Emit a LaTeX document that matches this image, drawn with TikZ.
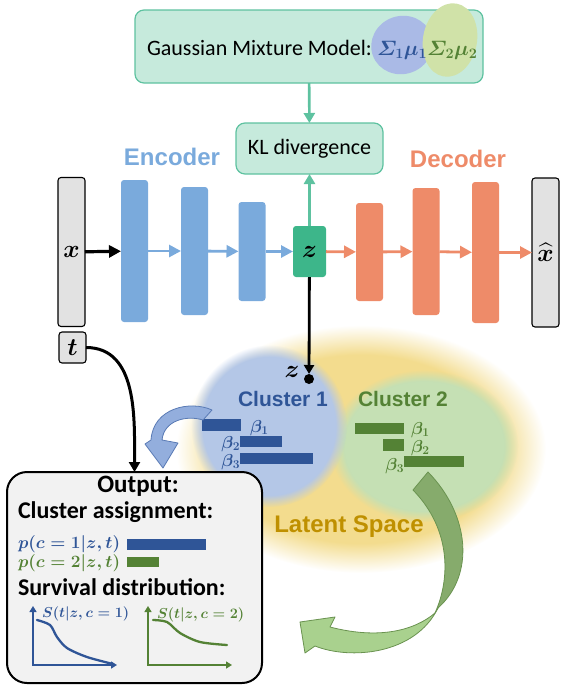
\documentclass[tikz,border=0pt]{standalone}
\usepackage{amsmath}
\usepackage{amsfonts}
\usepackage{fontspec}
\setmainfont{Carlito}
\setsansfont{Liberation Sans}
\usetikzlibrary{arrows.meta, fadings}

\definecolor{encblue}{HTML}{7AAADC}
\definecolor{decorange}{HTML}{EE8B69}
\definecolor{iogray}{HTML}{E2E2E2}
\definecolor{tealfill}{HTML}{C6EADC}
\definecolor{tealline}{HTML}{5EC2A0}
\definecolor{zteal}{HTML}{3DB68A}
\definecolor{clublue}{HTML}{2F5597}
\definecolor{clugreen}{HTML}{548235}
\definecolor{cluonefill}{HTML}{B4C7E7}
\definecolor{clutwofill}{HTML}{C5E0B4}
\definecolor{latentbg}{HTML}{F3DC8E}
\definecolor{latentgold}{HTML}{BF9000}
\definecolor{outgray}{HTML}{F2F2F2}
\definecolor{gmmblue}{HTML}{AABAE6}
\definecolor{gmmgreen}{HTML}{D0E2A8}
\definecolor{bluearrow}{HTML}{93AEDD}
\definecolor{bluearrowline}{HTML}{5A7BB5}
\definecolor{greendark}{HTML}{86AB6C}
\definecolor{greenlight}{HTML}{A9D18E}
\definecolor{greenline}{HTML}{6A9350}

% soft edged glow for the latent space
\pgfdeclareradialshading{latentglow}{\pgfpoint{0bp}{0bp}}{color(0bp)=(latentbg); color(19bp)=(latentbg); color(25bp)=(white); color(50bp)=(white)}

\newcommand{\pxfont}[1]{\fontsize{#1}{#1}\selectfont}

\begin{document}
\begin{tikzpicture}[x=1pt, y=-1pt,
	every node/.style={inner sep=0pt, outer sep=0pt},
	layer/.style={shape=rectangle, rounded corners=3pt, minimum width=27pt},
	encbar/.style={layer, fill=encblue},
	decbar/.style={layer, fill=decorange},
	iobox/.style={layer, fill=iogray, draw=black, line width=1.1pt, font=\pxfont{24}},
	tealbox/.style={shape=rectangle, rounded corners=9pt, fill=tealfill, draw=tealline, line width=1.2pt},
	title/.style={font=\sffamily\bfseries\pxfont{24}},
	flow/.style={-{Triangle[length=12pt,width=12pt]}, line width=2.8pt},
	kl/.style={-{Triangle[length=10pt,width=11pt]}, line width=2.6pt, tealline},
	bar/.style={shape=rectangle, anchor=north west},
	heading/.style={anchor=base west, font=\bfseries\pxfont{24}},
	blob/.style={path fading=circle with fuzzy edge 15 percent},
	axis/.style={{Triangle[length=6pt,width=7pt]}-{Triangle[length=6pt,width=7pt]}, line width=2.3pt},
	curve/.style={line width=2.3pt, line cap=round}]
	
	\useasboundingbox (0,0) rectangle (567,689);
	
	% latent space
	\shade[shading=latentglow] (361,449) ellipse (185pt and 124pt);
	\fill[clutwofill, blob] (424,446) ellipse (94pt and 76pt);
	\fill[cluonefill, blob] (269,426) ellipse (78pt and 81pt);
	
	% gaussian mixture model and kl term
	\node[tealbox, minimum width=348pt, minimum height=73pt] (gmm) at (309,46.5) {};
	\fill[gmmblue, rotate around={20:(402,45)}] (402,45) ellipse (31pt and 29pt);
	\fill[gmmgreen, rotate around={-10:(450,40)}] (450,40) ellipse (27pt and 37pt);
	\node[anchor=base west, font=\pxfont{22}] (gmmtext) at (147,55) {Gaussian Mixture Model:};
	\node[anchor=base west, font=\pxfont{22}] (gmmparams) at (377,55) {\color{clublue}$\boldsymbol{\varSigma_1\mu_1}$\color{clugreen}$\boldsymbol{\varSigma_2\mu_2}$};
	\node[tealbox, minimum width=147pt, minimum height=51pt, font=\pxfont{22}] (kl) at (309.5,148.5) {KL divergence};
	
	% autoencoder
	\node[title, text=encblue, anchor=base] (enc) at (172,165) {Encoder};
	\node[title, text=decorange, anchor=base] (dec) at (458,167) {Decoder};
	
	\node[iobox, minimum height=149pt] (x) at (71.5,252) {$\boldsymbol{x}$};
	\node[encbar, minimum height=142pt] (e1) at (134.5,251) {};
	\node[encbar, minimum height=128pt] (e2) at (194.5,251) {};
	\node[encbar, minimum height=99pt] (e3) at (252,251.5) {};
	\node[layer, minimum width=33pt, minimum height=51pt, fill=zteal, font=\pxfont{24}] (z) at (309.5,251.5) {$\boldsymbol{z}$};
	\node[decbar, minimum height=98pt] (d1) at (369.5,252) {};
	\node[decbar, minimum height=127pt] (d2) at (426,251.5) {};
	\node[decbar, minimum height=141pt] (d3) at (485.5,252.5) {};
	\node[iobox, minimum height=149pt] (xhat) at (545.5,252.5) {$\boldsymbol{\widehat{x}}$};
	
	\path[flow, black, line width=3.2pt] (x) edge (e1);
	\path[flow, encblue] (e1) edge (e2);
	\path[flow, encblue] (e2) edge (e3);
	\path[flow, encblue] (e3) edge (z);
	\path[flow, decorange] (z) edge (d1);
	\path[flow, decorange] (d1) edge (d2);
	\path[flow, decorange] (d2) edge (d3);
	\path[flow, decorange] (d3) edge (xhat);
	\path[kl] (gmm) edge (kl);
	\path[kl] (z) edge (kl);
	
	% clusters
	\node[circle, fill=black, minimum size=10pt] (zdot) at (309,379) {};
	\node[anchor=base, font=\pxfont{24}] (zlabel) at (292,377) {$\boldsymbol{z}$};
	\path[flow, black, -{Triangle[length=9pt,width=10pt]}] (z) edge (zdot);
	
	\node[anchor=base, font=\sffamily\bfseries\pxfont{21}, text=clublue] (cone) at (283,406) {Cluster 1};
	\node[anchor=base, font=\sffamily\bfseries\pxfont{21}, text=clugreen] (ctwo) at (403,406) {Cluster 2};
	
	\node[bar, fill=clublue, minimum width=39pt, minimum height=12pt] (bone1) at (202,419) {};
	\node[bar, fill=clublue, minimum width=42pt, minimum height=11pt] (bone2) at (240,436) {};
	\node[bar, fill=clublue, minimum width=73pt, minimum height=11pt] (bone3) at (240,453) {};
	\node[anchor=base west, font=\pxfont{18}, text=clublue] (lone1) at (250,432) {$\boldsymbol{\beta_1}$};
	\node[anchor=base east, font=\pxfont{18}, text=clublue] (lone2) at (240,448) {$\boldsymbol{\beta_2}$};
	\node[anchor=base east, font=\pxfont{18}, text=clublue] (lone3) at (240,466) {$\boldsymbol{\beta_3}$};
	
	\node[bar, fill=clugreen, minimum width=49pt, minimum height=11pt] (btwo1) at (355,423) {};
	\node[bar, fill=clugreen, minimum width=21pt, minimum height=12pt] (btwo2) at (383,439) {};
	\node[bar, fill=clugreen, minimum width=60pt, minimum height=11pt] (btwo3) at (404,456) {};
	\node[anchor=base west, font=\pxfont{18}, text=clugreen] (ltwo1) at (411,434) {$\boldsymbol{\beta_1}$};
	\node[anchor=base west, font=\pxfont{18}, text=clugreen] (ltwo2) at (411,452) {$\boldsymbol{\beta_2}$};
	\node[anchor=base east, font=\pxfont{18}, text=clugreen] (ltwo3) at (404,470) {$\boldsymbol{\beta_3}$};
	
	\node[anchor=base, font=\sffamily\bfseries\pxfont{24}, text=latentgold] (latent) at (349,532) {Latent Space};
	
	% output
	\node[iobox, minimum height=31pt] (t) at (72.5,347.5) {$\boldsymbol{t}$};
	\node[shape=rectangle, rounded corners=20pt, draw=black, line width=2pt, fill=outgray, minimum width=255pt, minimum height=211pt] (out) at (134.5,577.5) {};
	\path[flow, black, line width=3pt, -{Triangle[length=10pt,width=11pt]}] (t) edge[out=0, in=90] (out);
	
	\node[anchor=base, font=\bfseries\pxfont{25}] (outtitle) at (138,492) {Output:};
	\node[heading] (assign) at (18,518) {Cluster assignment:};
	\node[anchor=base west, font=\pxfont{18}, text=clublue] (pone) at (18,548) {$\boldsymbol{p(c=1|z,t)}$};
	\node[anchor=base west, font=\pxfont{18}, text=clugreen] (ptwo) at (18,567) {$\boldsymbol{p(c=2|z,t)}$};
	\node[bar, fill=clublue, minimum width=79pt, minimum height=11pt] (pbone) at (127,539) {};
	\node[bar, fill=clugreen, minimum width=32pt, minimum height=10pt] (pbtwo) at (127,557) {};
	\node[heading] (surv) at (18,595) {Survival distribution:};
	
	\coordinate (yone) at (33,606);
	\coordinate (xone) at (117,665);
	\coordinate (ytwo) at (148,606);
	\coordinate (xtwo) at (232,665);
	\draw[axis, clublue] (yone) |- (xone);
	\draw[axis, clugreen] (ytwo) |- (xtwo);
	\draw[curve, clublue] plot[smooth] coordinates {(37,620) (50,625) (57,637) (67,648) (87,657) (113,664)};
	\draw[curve, clugreen] plot[smooth] coordinates {(153,620) (167,622) (180,633) (200,642) (227,645)};
	\node[anchor=base west, font=\pxfont{15}, text=clublue] (sone) at (42,617) {$\boldsymbol{S(t|z,c=1)}$};
	\node[anchor=base west, font=\pxfont{15}, text=clugreen] (stwo) at (157,618) {$\boldsymbol{S(t|z,c=2)}$};
	
	% curved block arrows
	\draw[fill=bluearrow, draw=bluearrowline, line width=0.8pt, line join=round] (212,410) .. controls (190,400) and (153,408) .. (151,440) -- (145,444) -- (163,468) -- (178,443) -- (162,440) .. controls (164,420) and (187,415) .. (203,420) -- cycle;
	\draw[fill=greendark, draw=greenline, line width=0.8pt, line join=round] (428,472) .. controls (470,515) and (475,575) .. (438,608) -- (435,613) .. controls (450,580) and (452,530) .. (413,490) -- cycle;
	\draw[fill=greenlight, draw=greenline, line width=0.8pt, line join=round] (435,613) .. controls (415,630) and (380,640) .. (330,627) -- (335,617) -- (300,622) -- (305,653) -- (315,646) .. controls (350,660) and (415,655) .. (438,608) -- cycle;
	
\end{tikzpicture}
\end{document}
